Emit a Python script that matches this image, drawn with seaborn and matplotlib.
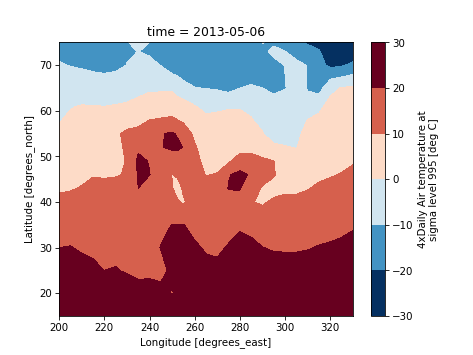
import numpy as np
import seaborn as sns
import matplotlib
matplotlib.use("Agg")
import matplotlib.pyplot as plt

# grid, deg C, south to north
lats = [15, 20, 25, 30, 35, 40, 43, 46, 49, 52, 55, 58, 61, 65, 70, 73, 75]
lons = [200, 205, 210, 215, 220, 225, 230, 235, 240, 245, 250, 252.5, 255, 260,
        265, 270, 275, 280, 285, 290, 295, 300, 305, 310, 315, 320, 325, 330]

t200 = [28, 25, 22.5, 20, 15.8, 11.5, 9.2, 7.3, 5.4, 3.5, 1.5, -0.4, -2.5, -5.7, -9.4, -11.5, -13]
t205 = [28, 25.5, 23, 20.3, 16.2, 12, 9.5, 7.8, 6.2, 4.6, 3, 1.2, -0.4, -4.6, -10.3, -12, -13.5]
t210 = [29, 26, 23, 19, 15.5, 12.5, 10.4, 8.5, 6.8, 5.2, 3.6, 2, 0.4, -4.7, -11, -13, -14]
t215 = [29, 26, 22, 18, 15.5, 13, 11.4, 9.7, 7.8, 6, 4, 2.2, 0.2, -5, -12, -14, -15]
t220 = [29, 25, 20, 18, 15.5, 13, 11.3, 9.5, 7.6, 5.8, 4, 2, 0, -5.5, -12.5, -14, -15]
t225 = [29, 26, 20.5, 17.5, 15.5, 13, 11, 9.8, 8.5, 7.5, 8.5, 3.5, 0.5, -4.7, -12, -14, -15]
t230 = [30, 26, 19, 17, 15.5, 13.5, 12, 10.2, 10.3, 11.5, 12, 5.5, 1.3, -4.5, -9.8, -11, -10.3]
t235 = [30, 23, 18, 16.5, 15.5, 15, 20, 21, 21.8, 18.5, 12.5, 7.5, 2.5, -2.5, -7.5, -9.9, -8]
t240 = [30, 23.5, 18, 16.5, 15.5, 14, 15, 20.2, 19.6, 17, 13.5, 10, 5, -1.5, -8, -11, -10]
t245 = [30, 22, 18, 20.3, 18, 15, 14.5, 16, 16.5, 19.5, 19.5, 10.7, 5.5, -1.5, -10.2, -13, -13]
t250 = [30, 19.5, 21.5, 23, 20.2, 13, 10.5, 9.7, 13, 22, 21, 11.5, 5.5, -1.5, -15, -15, -15]
t252 = [30, 22, 23.5, 23.5, 20.2, 11, 6.5, 11.5, 14, 22, 19, 10, 5, -4.5, -15, -15.5, -15.5]
t255 = [30, 25, 25, 24, 20.3, 9, 11.5, 13, 14, 19.5, 14.5, 8.7, 4.5, -7.5, -15, -16, -16]
t260 = [30, 26, 26, 22, 16, 14, 13, 12.5, 12, 10.8, 8.5, 4.5, 0.5, -9.8, -15, -17, -17]
t265 = [30, 27, 24, 18.5, 16, 14, 12, 9.8, 8, 6.5, 4.5, 2, -2.5, -10.2, -16, -17, -17]
t270 = [30, 28, 22, 18.5, 17, 15, 13, 10.3, 8, 6, 4.5, 2, -1.5, -11, -16, -18, -18]
t275 = [30, 28, 23, 20.7, 17, 16, 20.5, 19.5, 8.5, 7, 5, 2.5, -0.8, -13, -16, -18, -18]
t280 = [30, 29, 27, 23, 18.7, 17, 20.5, 22, 15, 6, 4.5, 2.5, -0.8, -10, -16, -18, -18]
t285 = [30, 29, 26, 22.5, 17, 10.3, 12.5, 19, 13, 7.5, 3.5, 0.3, -1, -9, -15.5, -18, -18]
t290 = [30, 29, 25, 20.2, 14, 9.3, 9.5, 12, 12, 4, 0.3, -1.5, -5, -10, -15, -11.5, -9.8]
t295 = [30, 29, 24.5, 19, 15, 11, 8, 10.5, 10.1, 1.5, -3.5, -5, -6, -12, -12, -8.5, -11]
t300 = [30, 28, 24, 19, 15, 11.3, 9, 7, 4, 0.5, -3.5, -5, -6.5, -10.3, -9.8, -9.8, -13]
t305 = [30, 28, 24, 19, 15, 11.3, 9, 6.5, 2.5, -0.3, -1.5, -3.5, -4.5, -7, -8, -13, -18]
t310 = [30, 28, 24, 19.5, 15.5, 12, 9.7, 7.5, 5.5, 3.5, 2, 0.2, -8, -10.4, -10.3, -17, -20.8]
t315 = [30, 28, 25, 20.5, 16, 13, 11, 8.8, 7, 5.5, 3.8, 2, -2, -14, -17, -19.4, -22]
t320 = [30, 28, 25.5, 21, 17, 13.5, 11.5, 9.6, 8, 7, 6, 4.5, 3, -2.5, -22, -24, -25]
t325 = [30, 28, 25.5, 22, 17.5, 14.5, 12, 10.2, 9, 8, 7, 6, 4, 0.5, -21, -26, -27]
t330 = [30, 28.5, 26, 23, 19, 15.5, 13, 11.3, 9.5, 8.5, 7.5, 6, 4, 1.5, -18, -26, -25]

levels = [-30, -20, -10, 0, 10, 20, 30]

air = np.column_stack([t200, t205, t210, t215, t220, t225, t230, t235, t240,
                       t245, t250, t252, t255, t260, t265, t270, t275, t280,
                       t285, t290, t295, t300, t305, t310, t315, t320, t325, t330])

palette = sns.color_palette(["#053061", "#4393c3", "#d1e5f0", "#fddbc7", "#d6604d", "#67001f"])

fig, ax = plt.subplots(figsize=(6.4, 4.8), dpi=74)
cf = ax.contourf(lons, lats, air, levels=levels, colors=palette)
cbar = fig.colorbar(cf, ax=ax)
cbar.set_label("4xDaily Air temperature at\nsigma level 995 [deg C]")

ax.set_xticks(range(200, 330, 20))
ax.set_yticks(range(20, 80, 10))
ax.set_xlabel("Longitude [degrees_east]")
ax.set_ylabel("Latitude [degrees_north]")
ax.set_title("time = 2013-05-06")

fig.savefig("out.png", dpi=74)
